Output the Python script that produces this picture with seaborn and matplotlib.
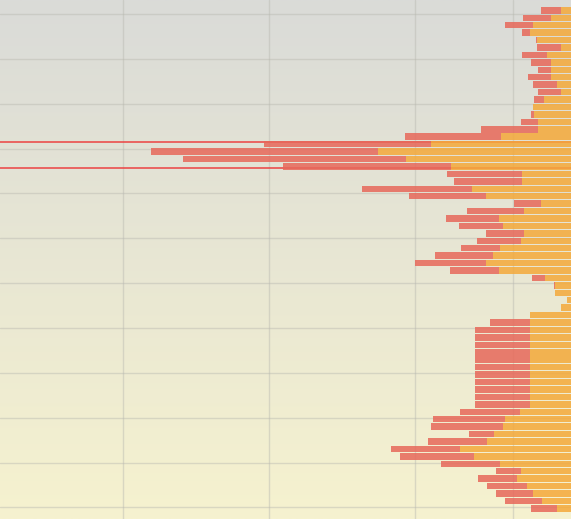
import numpy as np
import matplotlib
matplotlib.use("Agg")
import matplotlib.pyplot as plt
import seaborn as sns

# volume profile: one row per price level, top row = highest price
# buy part (orange) sits against the right edge, sell part (red) continues leftwards
buy_volume = [10, 20, 38, 41, 34, 10, 24, 20, 20, 20, 14, 10, 27, 38, 37, 33, 33,
              70, 140, 193, 165, 120, 49, 49, 99, 85, 30, 47, 72, 68, 47, 50, 71, 78,
              85, 72, 26, 16, 16, 4, 10, 41, 41, 41, 41, 41, 41, 41, 41, 41, 41, 41,
              41, 41, 51, 66, 68, 77, 84, 111, 97, 71, 50, 54, 44, 38, 29, 14]
sell_volume = [20, 28, 28, 8, 1, 24, 25, 20, 13, 23, 24, 23, 10, 0, 3, 17, 57,
               96, 167, 227, 223, 168, 75, 68, 110, 77, 27, 57, 53, 44, 38, 44, 39, 58,
               71, 49, 13, 1, 0, 0, 0, 0, 40, 55, 55, 55, 55, 55, 55, 55, 55, 55, 55,
               55, 60, 72, 72, 25, 59, 69, 74, 59, 25, 39, 40, 37, 37, 26]
levels = list(range(len(buy_volume)))

# value area bounds (in row units)
value_area = [17.75, 21.25]

# grid positions left over from the underlying price/time chart
grid_x = [448.3, 301.7, 155.7, 57.7]
grid_y = [0.53, 6.58, 12.6, 18.62, 24.6, 30.66, 36.7, 42.75, 48.8, 54.8, 60.9, 66.86]

ORANGE = "#F4A93A"
RED = "#E7685A"

sns.set_style("white")
fig = plt.figure(figsize=(5.71, 5.19), dpi=100)
ax = fig.add_axes([0, 0, 1, 1])

# bars (seaborn handles the buy part, matplotlib stacks the sell part on it)
sns.barplot(x=buy_volume, y=levels, orient="h", color=ORANGE, saturation=1,
            width=0.87, alpha=0.85, errorbar=None, linewidth=0, ax=ax, zorder=2)
ax.barh(levels, sell_volume, left=buy_volume, height=0.87, color=RED,
        alpha=0.85, linewidth=0, zorder=2)

ax.set_xlim(571, 0)
ax.set_ylim(68.43, -1.392)

# background gradient grey -> pale yellow
grad = np.linspace(0, 1, 256).reshape(-1, 1)
cmap = matplotlib.colors.LinearSegmentedColormap.from_list("bg", ["#DADBD8", "#F6F2CF"])
ax.imshow(grad, cmap=cmap, aspect="auto", extent=(571, 0, 68.43, -1.392), zorder=0)

for v in value_area:
    ax.axhline(v, color="#EC4242", linewidth=1.1, zorder=1)

ax.set_xticks(grid_x)
ax.set_yticks(grid_y)
ax.set_axisbelow(True)
ax.grid(True, color="#B8B8B0", linewidth=1, alpha=0.45)
ax.tick_params(length=0, labelleft=False, labelbottom=False)
ax.set_xlabel("")
ax.set_ylabel("")
for s in ax.spines.values():
    s.set_visible(False)

fig.savefig("out.png", dpi=100)
